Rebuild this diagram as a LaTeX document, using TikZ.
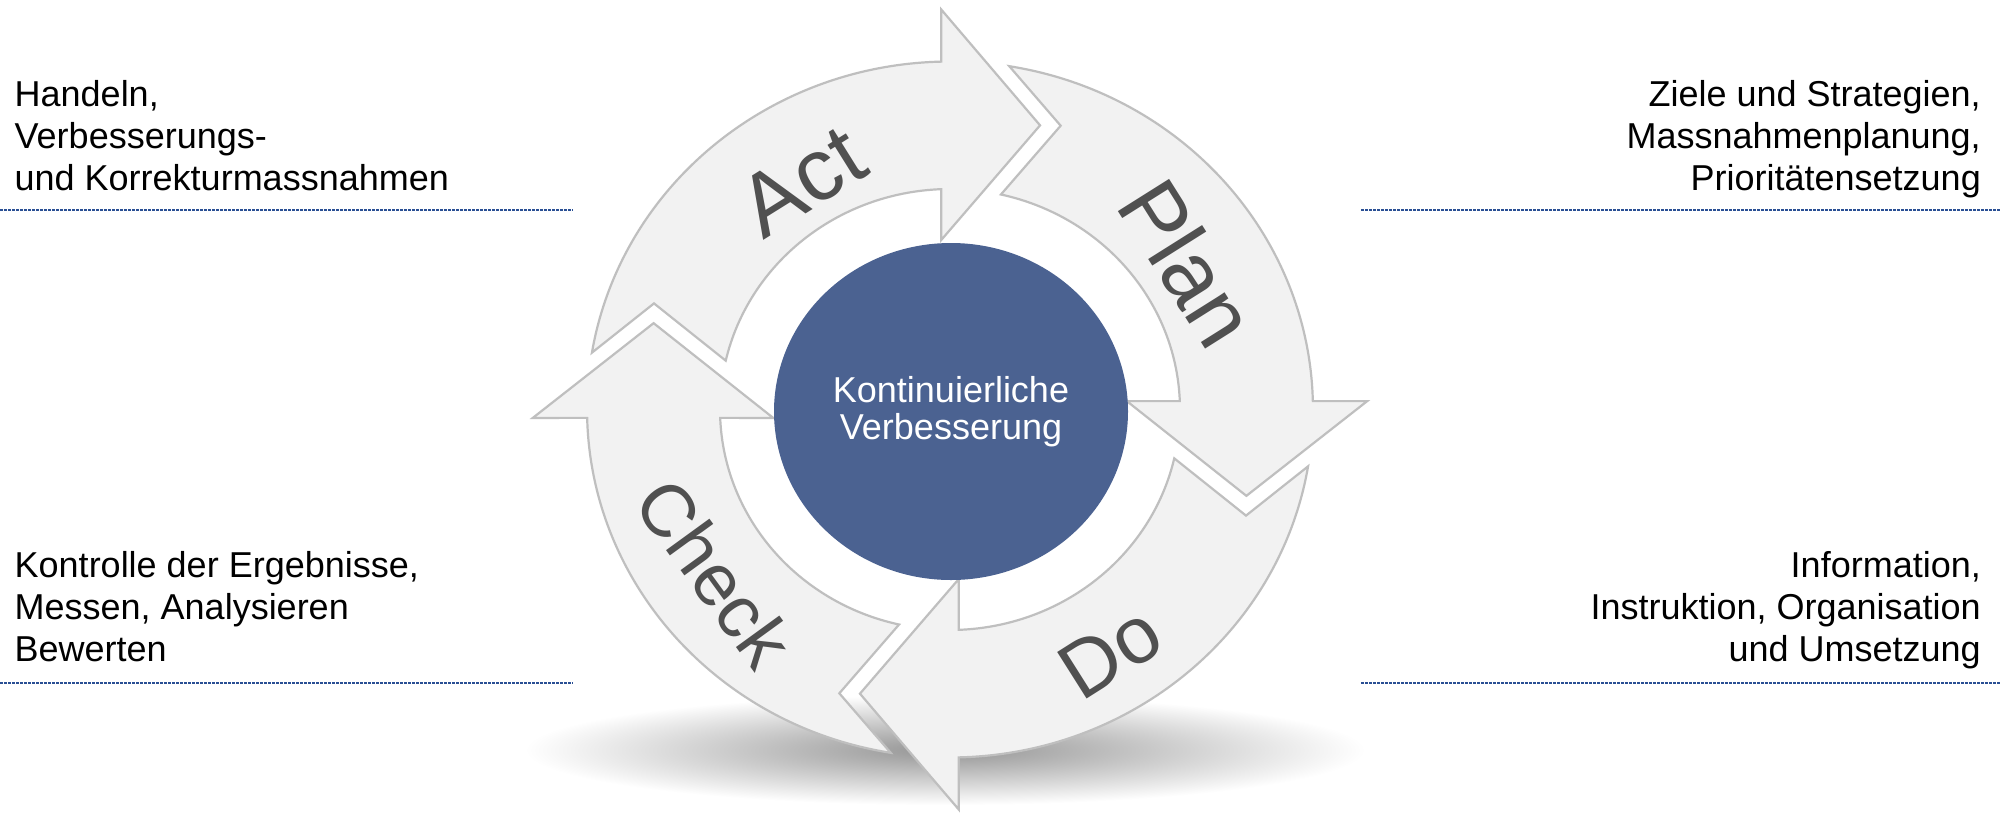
\documentclass[tikz,border=0pt]{standalone}
\usepackage{fontspec}
\setmainfont{Liberation Sans}
\usetikzlibrary{calc,shapes.geometric}
\definecolor{arrowfill}{HTML}{F2F2F2}
\definecolor{arrowline}{HTML}{BFBFBF}
\definecolor{core}{HTML}{4B6291}
\definecolor{lbl}{HTML}{505050}
\definecolor{rule}{HTML}{2A4F94}
\newcommand\cyclearrow[2]{%
  \begin{scope}[rotate=#1]
    \filldraw[arrowshape] (80.6:348) arc[start angle=80.6, end angle=1.38, radius=348]
      -- (400,8.4) -- (-16.9:297) -- (169.5,8.4) -- (2.18:220.5)
      arc[start angle=2.18, end angle=77.2, radius=220.5]
      -- (69.5:303) -- cycle;
    \coordinate (#2) at (45:284);
  \end{scope}}
\begin{document}
\begin{tikzpicture}[x=1pt,y=1pt,
  arrowshape/.style={fill=arrowfill, draw=arrowline, line width=2.2pt, line join=miter},
  steplabel/.style={text=lbl, inner sep=0pt},
  sidetext/.style={inner sep=0pt, text=black, font=\fontsize{36}{42}\selectfont},
  rulestyle/.style={draw=rule, line width=1.8pt, dash pattern=on 3pt off 1pt}]
\useasboundingbox[fill=white] (0,0) rectangle (2000,-823);
% shadow
\shade[inner color=black!42, outer color=white] (945,-750) ellipse [x radius=420, y radius=55];
% ring of arrows
\begin{scope}[shift={(950,-409.5)}, xscale=1.043]
  \cyclearrow{90}{actarrow}
  \cyclearrow{0}{planarrow}
  \cyclearrow{-90}{doarrow}
  \cyclearrow{180}{checkarrow}
\end{scope}
% centre
\node[ellipse, fill=core, minimum width=354pt, minimum height=337pt, inner sep=0pt] (core) at (951,-411.5) {};
\node[text=white, align=center, inner sep=0pt, font=\fontsize{36}{37.2}\selectfont] (coretext) at (951,-412) {Kontinuierliche\\Verbesserung};
% step labels
\node[steplabel, rotate=32, font=\fontsize{88}{88}\selectfont] (act) at (802,-181) {Act};
\node[steplabel, rotate=-57.8, font=\fontsize{88}{88}\selectfont] (plan) at (1188,-263) {Plan};
\node[steplabel, rotate=32.3, font=\fontsize{80}{80}\selectfont] (do) at (1110,-652) {Do};
\node[steplabel, rotate=-54, font=\fontsize{74}{74}\selectfont] (check) at (715,-573) {Check};
% side texts
\node[sidetext, align=left, anchor=north west] (tl) at (14.5,-80.2) {Handeln,\\Verbesserungs-\\und Korrekturmassnahmen};
\node[sidetext, align=right, anchor=north east] (tr) at (1981,-80.2) {Ziele und Strategien,\\Massnahmenplanung,\\Prioritätensetzung};
\node[sidetext, align=left, anchor=north west] (bl) at (14.5,-551.2) {Kontrolle der Ergebnisse,\\Messen, Analysieren\\Bewerten};
\node[sidetext, align=right, anchor=north east] (br) at (1981,-551.2) {Information,\\Instruktion, Organisation\\und Umsetzung};
% rules
\coordinate (tla) at (0,-210); \coordinate (tlb) at (573,-210);
\coordinate (tra) at (1361,-210); \coordinate (trb) at (2000,-210);
\coordinate (bla) at (0,-683); \coordinate (blb) at (573,-683);
\coordinate (bra) at (1361,-683); \coordinate (brb) at (2000,-683);
\draw[rulestyle] (tla) -- (tlb);
\draw[rulestyle] (tra) -- (trb);
\draw[rulestyle] (bla) -- (blb);
\draw[rulestyle] (bra) -- (brb);
\end{tikzpicture}
\end{document}
